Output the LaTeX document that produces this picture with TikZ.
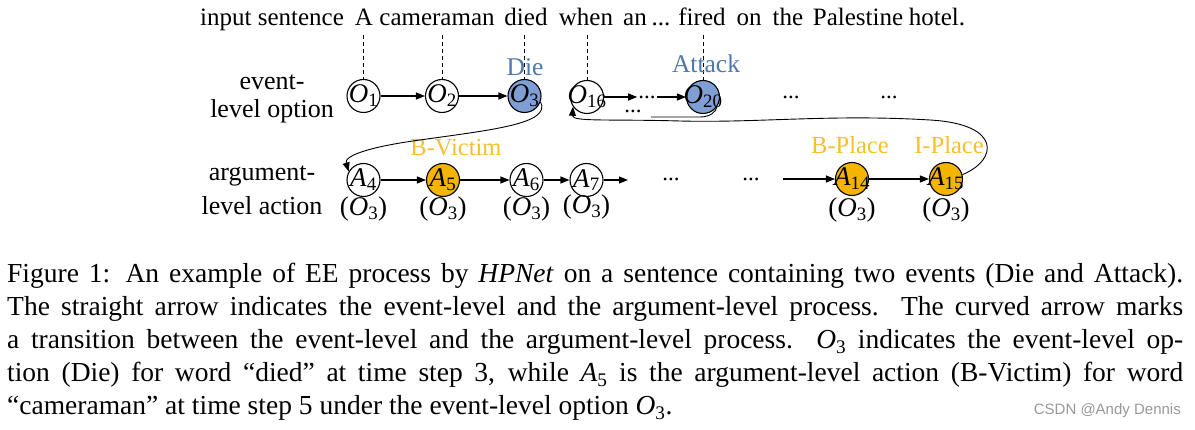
\documentclass[tikz,border=0pt]{standalone}
\usepackage{fontspec}
\setmainfont{Liberation Serif}
\newfontfamily\wmfont{Liberation Sans}
\usetikzlibrary{arrows.meta}
\definecolor{blueF}{HTML}{7F9FD4}
\definecolor{blueT}{HTML}{4D7AAA}
\definecolor{yellF}{HTML}{F5B400}
\definecolor{yellT}{HTML}{F5C02A}
\newcommand{\Osub}[1]{\textit{O}\textsubscript{#1}}
\newcommand{\Asub}[1]{\textit{A}\textsubscript{#1}}
\newcommand{\zbox}[1]{\makebox[0pt]{#1}}
\begin{document}
\begin{tikzpicture}[x=1pt,y=-1pt,
  state/.style={circle,draw,line width=1.1pt,minimum size=33pt,inner sep=0pt,
    font=\fontsize{27}{27}\selectfont},
  evt/.style={state,fill=blueF},
  arg/.style={state,fill=yellF},
  word/.style={font=\fontsize{25}{27}\selectfont,inner sep=0pt,anchor=base},
  side/.style={font=\fontsize{26}{28}\selectfont,inner sep=0pt},
  dotsn/.style={font=\fontsize{23}{23}\selectfont,inner sep=1pt},
  tagB/.style={font=\fontsize{25.5}{27}\selectfont,inner sep=0pt,text=blueT},
  tagY/.style={font=\fontsize{24.5}{27}\selectfont,inner sep=0pt,text=yellT},
  under/.style={font=\fontsize{27}{27}\selectfont,inner sep=0pt},
  flow/.style={-{Triangle[length=9pt,width=7pt]},line width=1.1pt},
  curv/.style={-{Triangle[length=9pt,width=7pt]},line width=0.9pt},
  guide/.style={line width=0.8pt,dash pattern=on 4pt off 3pt},
  captext/.style={font=\fontsize{27.5}{33}\selectfont,inner sep=0pt,anchor=base west}
]
\fill[white] (0,0) rectangle (1195,430);
\useasboundingbox (0,0) rectangle (1195,430);

% input sentence
\node[word] (w0) at (272,26) {input sentence};
\node[word] (wA) at (364,26) {A};
\node[word] (wcam) at (437,26) {cameraman};
\node[word] (wdied) at (526,26) {died};
\node[word] (wwhen) at (586,26) {when};
\node[word] (wan) at (635,26) {an};
\node[word] (wdots) at (661,26) {...};
\node[word] (wfired) at (702,26) {fired};
\node[word] (won) at (749,26) {on};
\node[word] (wthe) at (788,26) {the};
\node[word] (wpal) at (858,26) {Palestine};
\node[word] (whot) at (937,26) {hotel.};

% side labels
\node[side] (l1) at (272,82) {event-};
\node[side] (l2) at (272,111) {level option};
\node[side] (l3) at (262,176) {argument-};
\node[side] (l4) at (262,206) {level action};

% event-level options
\node[state] (O1) at (363.5,96) {\zbox{\Osub{1}}};
\node[state] (O2) at (442,96) {\zbox{\Osub{2}}};
\node[evt] (O3) at (524.5,96) {\zbox{\Osub{3}}};
\node[state] (O16) at (587,97) {\zbox{\Osub{16}}};
\node[dotsn] (d1) at (647,97) {...};
\node[evt] (O20) at (703,97) {\zbox{\Osub{20}}};
\node[dotsn] (d2) at (791,97) {...};
\node[dotsn] (d3) at (889,97) {...};
\node[dotsn] (d4) at (633,111) {...};

% guides
\draw[guide] (O1.north |- 35,35) -- (O1.north);
\draw[guide] (O2.north |- 35,35) -- (O2.north);
\draw[guide] (O3.north |- 35,35) -- (O3.north);
\draw[guide] (O16.north |- 35,35) -- (O16.north);
\draw[guide] (O20.north |- 35,35) -- (O20.north);

\node[tagB] (die) at (525,67) {Die};
\node[tagB] (att) at (706,64) {Attack};

\draw[flow] (O1) -- (O2);
\draw[flow] (O2) -- (O3);
\draw[flow] (O16) -- (d1);
\draw[flow] (d1) -- (O20);

% argument-level actions
\node[state] (A4) at (363.5,180) {\zbox{\Asub{4}}};
\node[arg] (A5) at (443,180) {\zbox{\Asub{5}}};
\node[state] (A6) at (526.5,180) {\zbox{\Asub{6}}};
\node[state] (A7) at (586.5,180) {\zbox{\Asub{7}}};
\coordinate (e7) at (628,180);
\node[dotsn] (d5) at (671,179) {...};
\node[dotsn] (d6) at (751,179) {...};
\coordinate (s14) at (783,179);
\node[arg] (A14) at (852,179) {\zbox{\Asub{14}}};
\node[arg] (A15) at (946,179) {\zbox{\Asub{15}}};

\node[tagY] (bv) at (456,148) {B-Victim};
\node[tagY] (bp) at (850,145) {B-Place};
\node[tagY] (ip) at (949,145) {I-Place};

\node[under] (u4) at (363.5,209) {(\Osub{3})};
\node[under] (u5) at (443,209) {(\Osub{3})};
\node[under] (u6) at (526.5,209) {(\Osub{3})};
\node[under] (u7) at (586.5,207) {(\Osub{3})};
\node[under] (u14) at (852,210) {(\Osub{3})};
\node[under] (u15) at (946,210) {(\Osub{3})};

\draw[flow] (A4) -- (A5);
\draw[flow] (A5) -- (A6);
\draw[flow] (A6) -- (A7);
\draw[flow] (A7) -- (e7);
\draw[flow] (s14) -- (A14);
\draw[flow] (A14) -- (A15);

% curved transitions
\draw[curv] (O3.-20) .. controls (552,124) and (490,130) .. (420,140)
  .. controls (368,147) and (344,156) .. (A4.150);
\draw[curv] (A15.15) .. controls (998,160) and (1002,124) .. (930,120)
  .. controls (830,114) and (760,123) .. (680,121)
  .. controls (610,119) and (572,122) .. (O16.-145);
\coordinate (t0) at (651,117);
\draw[line width=0.9pt] (t0) -- (700,117) .. controls (710,117) and (716,112) .. (O20.-35);

% caption
\node[captext] (c1) at (7,283) {\makebox[1176pt][s]{Figure 1: An example of EE process by \textit{HPNet} on a sentence containing two events (Die and Attack).}};
\node[captext] (c2) at (7,316) {\makebox[1176pt][s]{The straight arrow indicates the event-level and the argument-level process.\ \ The curved arrow marks}};
\node[captext] (c3) at (7,349) {\makebox[1176pt][s]{a transition between the event-level and the argument-level process.\ \ \Osub{3} indicates the event-level op-}};
\node[captext] (c4) at (7,382) {\makebox[1176pt][s]{tion (Die) for word “died” at time step 3, while \Asub{5} is the argument-level action (B-Victim) for word}};
\node[captext] (c5) at (7,415) {“cameraman” at time step 5 under the event-level option \Osub{3}.};
\node[font=\wmfont\fontsize{15}{15}\selectfont,text=black!40,anchor=base east,inner sep=0pt] (wm) at (1181,415) {CSDN @Andy Dennis};
\end{tikzpicture}
\end{document}
